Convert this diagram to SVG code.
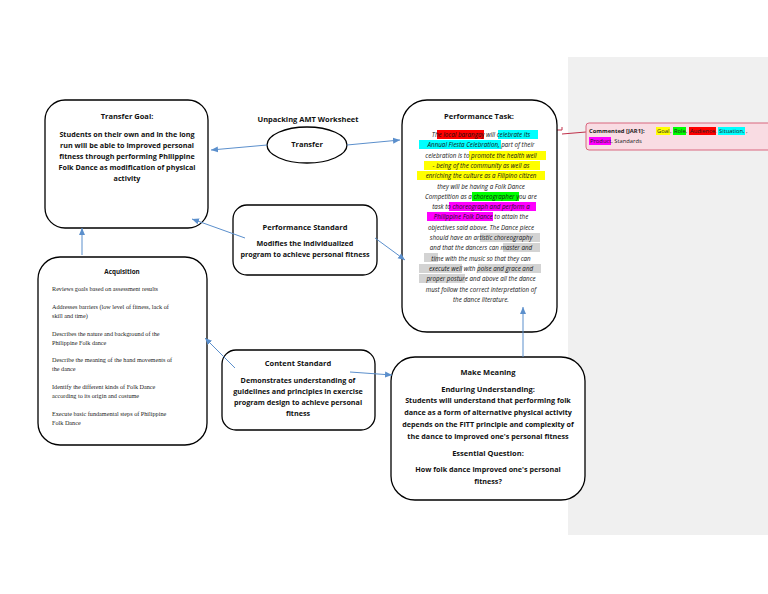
<svg xmlns="http://www.w3.org/2000/svg" width="768" height="594" viewBox="0 0 768 594">
<style>
.box{fill:#fff;stroke:#000;stroke-width:1.3}
.h{font-family:"Open Sans",sans-serif;font-weight:bold;font-size:7.5px;text-anchor:middle;fill:#111}
.b{font-family:"Open Sans",sans-serif;font-weight:bold;font-size:7.2px;text-anchor:middle;fill:#111}
.pt{font-family:"Open Sans",sans-serif;font-style:italic;font-size:6.25px;text-anchor:middle;fill:#111}
.aq{font-family:"Liberation Serif",serif;font-size:6.2px;fill:#222}
.cm{font-family:"Open Sans",sans-serif;font-size:5.8px;fill:#222}
.c{stroke:#5b8fcc;stroke-width:1;fill:none;marker-end:url(#a)}
</style>
<defs><marker id="a" markerWidth="8" markerHeight="8" refX="7" refY="4" orient="auto" markerUnits="userSpaceOnUse"><path d="M0,1 L7,4 L0,7 z" fill="#5b8fcc"/></marker></defs>
<rect width="768" height="594" fill="#fff"/>
<rect x="568" y="57" width="200" height="478" fill="#f0f0f0"/>
<g id="comment">
<path d="M557,130 L562,130 L562,127 M562,134 L586,132" stroke="#c0304a" stroke-width="1" fill="none"/>
<rect x="586" y="123" width="190" height="27" rx="3" fill="#f9dce3" stroke="#d9667f"/>
<rect x="656" y="127" width="14" height="8" fill="#ffff00"/><rect x="673" y="127" width="13" height="8" fill="#00ff00"/><rect x="689" y="127" width="27" height="8" fill="#ff0000"/><rect x="718" y="127" width="27" height="8" fill="#00ffff"/><rect x="589" y="137" width="22" height="8" fill="#ff00ff"/>
<text x="589" y="133" class="cm" font-weight="bold">Commented [JAR1]:</text>
<text x="657" y="133" class="cm">Goal</text><text x="670" y="133" class="cm">,</text>
<text x="674" y="133" class="cm">Role,</text>
<text x="690" y="133" class="cm">Audience,</text>
<text x="719" y="133" class="cm">Situation, ,</text>
<text x="590" y="143" class="cm">Product, Standards</text>
</g>
<text x="308" y="122" class="h">Unpacking AMT Worksheet</text>
<g id="transfer-goal">
<rect class="box" x="45" y="100" width="163" height="128" rx="20"/>
<text class="h" x="127" y="119">Transfer Goal:</text>
<text class="b" x="127" y="137">Students on their own and in the long</text>
<text class="b" x="127" y="148">run will be able to improved personal</text>
<text class="b" x="127" y="159">fitness through performing Philippine</text>
<text class="b" x="127" y="170">Folk Dance as modification of physical</text>
<text class="b" x="127" y="181">activity</text>
</g>
<g id="transfer">
<ellipse class="box" cx="307" cy="145" rx="40" ry="18"/>
<text class="h" x="307" y="147">Transfer</text>
</g>
<g id="performance-task">
<rect class="box" x="402" y="100" width="155" height="232" rx="25"/>
<text class="h" x="479" y="119">Performance Task:</text>
<g>
<rect x="437" y="130" width="47" height="9" fill="#ff0000"/><rect x="498" y="130" width="40" height="9" fill="#00ffff"/>
<rect x="419" y="140" width="82" height="9" fill="#00ffff"/>
<rect x="469" y="151" width="77" height="9" fill="#ffff00"/>
<rect x="424" y="161" width="116" height="9" fill="#ffff00"/>
<rect x="417" y="171" width="128" height="9" fill="#ffff00"/>
<rect x="472" y="192" width="47" height="9" fill="#00ff00"/>
<rect x="449" y="202" width="87" height="9" fill="#ff00ff"/>
<rect x="427" y="212" width="66" height="9" fill="#ff00ff"/>
<rect x="480" y="233" width="60" height="9" fill="#d3d3d3"/>
<rect x="503" y="243" width="37" height="9" fill="#d3d3d3"/>
<rect x="424" y="253" width="14" height="9" fill="#d3d3d3"/>
<rect x="419" y="264" width="43" height="9" fill="#d3d3d3"/><rect x="478" y="264" width="63" height="9" fill="#d3d3d3"/>
<rect x="419" y="274" width="46" height="9" fill="#d3d3d3"/>
</g>
<text class="pt" x="481" y="137">The local barangay will celebrate its</text>
<text class="pt" x="481" y="147">Annual Fiesta Celebration, part of their</text>
<text class="pt" x="481" y="158">celebration is to promote the health well</text>
<text class="pt" x="481" y="168">- being of the community as well as</text>
<text class="pt" x="481" y="178">enriching the culture as a Filipino citizen</text>
<text class="pt" x="481" y="189">they will be having a Folk Dance</text>
<text class="pt" x="481" y="199">Competition as a choreographer you are</text>
<text class="pt" x="481" y="209">task to choreograph and perform a</text>
<text class="pt" x="481" y="219">Philippine Folk Dance to attain the</text>
<text class="pt" x="481" y="230">objectives said above. The Dance piece</text>
<text class="pt" x="481" y="240">should have an artistic choreography</text>
<text class="pt" x="481" y="250">and that the dancers can master and</text>
<text class="pt" x="481" y="261">time with the music so that they can</text>
<text class="pt" x="481" y="271">execute well with poise and grace and</text>
<text class="pt" x="481" y="281">proper posture and above all the dance</text>
<text class="pt" x="481" y="292">must follow the correct interpretation of</text>
<text class="pt" x="481" y="302">the dance literature.</text>
</g>
<g id="performance-standard">
<rect class="box" x="233" y="205" width="144" height="70" rx="14"/>
<text class="h" x="305" y="230">Performance Standard</text>
<text class="b" x="305" y="246">Modifies the individualized</text>
<text class="b" x="305" y="257">program to achieve personal fitness</text>
</g>
<g id="acquisition">
<rect class="box" x="38" y="257" width="169" height="188" rx="22"/>
<text class="b" x="122" y="274" style="font-size:6.3px">Acquisition</text>
<text class="aq" x="52" y="291">Reviews goals based on assessment results</text>
<text class="aq" x="52" y="309">Addresses barriers (low level of fitness, lack of</text>
<text class="aq" x="52" y="318">skill and time)</text>
<text class="aq" x="52" y="336">Describes the nature and background of the</text>
<text class="aq" x="52" y="345">Philippine Folk dance</text>
<text class="aq" x="52" y="362">Describe the meaning of the hand movements of</text>
<text class="aq" x="52" y="371">the dance</text>
<text class="aq" x="52" y="389">Identify the different kinds of Folk Dance</text>
<text class="aq" x="52" y="398">according to its origin and costume</text>
<text class="aq" x="52" y="416">Execute basic fundamental steps of Philippine</text>
<text class="aq" x="52" y="425">Folk Dance</text>
</g>
<g id="content-standard">
<rect class="box" x="222" y="350" width="153" height="80" rx="14"/>
<text class="h" x="298" y="366">Content Standard</text>
<text class="b" x="298" y="383">Demonstrates understanding of</text>
<text class="b" x="298" y="394">guidelines and principles in exercise</text>
<text class="b" x="298" y="405">program design to achieve personal</text>
<text class="b" x="298" y="416">fitness</text>
</g>
<g id="make-meaning">
<rect class="box" x="391" y="357" width="194" height="143" rx="24"/>
<text class="h" x="488" y="375">Make Meaning</text>
<text class="h" x="488" y="392">Enduring Understanding:</text>
<text class="b" x="488" y="403">Students will understand that performing folk</text>
<text class="b" x="488" y="415">dance as a form of alternative physical activity</text>
<text class="b" x="488" y="427">depends on the FITT principle and complexity of</text>
<text class="b" x="488" y="439">the dance to improved one's personal fitness</text>
<text class="h" x="488" y="456">Essential Question:</text>
<text class="b" x="488" y="472">How folk dance improved one's personal</text>
<text class="b" x="488" y="484">fitness?</text>
</g>
<g id="connectors">
<line class="c" x1="267" y1="145" x2="211" y2="150"/>
<line class="c" x1="347" y1="145" x2="400" y2="140"/>
<line class="c" x1="245" y1="238" x2="192" y2="219"/>
<line class="c" x1="375" y1="238" x2="405" y2="260"/>
<line class="c" x1="82" y1="255" x2="82" y2="228"/>
<line class="c" x1="235" y1="368" x2="205" y2="338"/>
<line class="c" x1="350" y1="372" x2="392" y2="375"/>
<line class="c" x1="523" y1="357" x2="523" y2="307"/>
</g>
</svg>
